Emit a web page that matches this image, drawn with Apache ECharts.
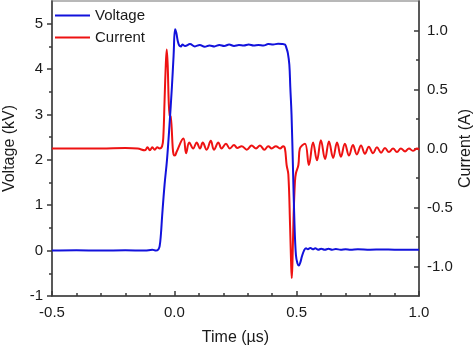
<!DOCTYPE html>
<html>
<head>
<meta charset="utf-8">
<script src="https://cdn.jsdelivr.net/npm/echarts@6/dist/echarts.min.js"></script>
<style>
  html, body { margin: 0; padding: 0; background: #fff; }
  #chart { width: 474px; height: 349px; }
</style>
</head>
<body>
<div id="chart"></div>
<script>
// tick labels
const timeTicks = [-0.5, 0.0, 0.5, 1.0];
const voltTicks = [-1, 0, 1, 2, 3, 4, 5];
const currTicks = [-1.0, -0.5, 0.0, 0.5, 1.0];

// Voltage (kV) vs time (us)
const voltTime = [-0.5, -0.4, -0.3, -0.2, -0.12, -0.09, -0.075, -0.065, -0.06, -0.055, -0.05, -0.04, -0.03, -0.02, -0.01, -0.003, 0.003, 0.008, 0.014, 0.02, 0.027, 0.033,
  0.044, 0.064, 0.084, 0.104, 0.124, 0.144, 0.164, 0.184, 0.204, 0.224, 0.244, 0.264, 0.284, 0.304, 0.324, 0.344, 0.364, 0.384, 0.404, 0.424, 0.444, 0.452,
  0.459, 0.464, 0.470, 0.474, 0.479, 0.485, 0.491, 0.497, 0.503, 0.509, 0.515, 0.522, 0.530, 0.538, 0.546, 0.556, 0.566, 0.576, 0.588, 0.6, 0.615, 0.63, 0.645, 0.66, 0.68, 0.7, 0.72, 0.75, 0.8, 0.85, 0.9, 0.95, 1.0];
const voltage = [0.0, 0.01, 0.0, 0.01, 0.0, 0.02, 0.0, 0.03, 0.1, 0.35, 0.75, 1.45, 2.0, 2.75, 3.6, 4.3, 4.88, 4.8, 4.62, 4.52, 4.5, 4.54,
  4.51, 4.55, 4.50, 4.53, 4.49, 4.52, 4.50, 4.53, 4.51, 4.54, 4.51, 4.53, 4.52, 4.54, 4.52, 4.53, 4.52, 4.55, 4.54, 4.56, 4.55, 4.54,
  4.45, 4.35, 4.1, 3.6, 3.0, 1.8, 0.6, -0.1, -0.28, -0.33, -0.26, -0.12, 0.0, 0.05, 0.03, 0.06, 0.03, 0.05, 0.02, 0.04, 0.02, 0.04, 0.02, 0.035, 0.02, 0.03, 0.02, 0.03, 0.02, 0.025, 0.02, 0.02, 0.02];

// Current (A) vs time (us)
const currTime = [-0.5, -0.4, -0.3, -0.2, -0.15, -0.12, -0.11, -0.1, -0.09, -0.08, -0.07, -0.06, -0.05, -0.045, -0.04, -0.036, -0.031, -0.027, -0.023, -0.019, -0.015, -0.011, -0.007, -0.003, 0.003, 0.009,
  0.037, 0.048, 0.061, 0.077, 0.091, 0.105, 0.116, 0.132, 0.149, 0.162, 0.18, 0.193, 0.211, 0.227, 0.244, 0.257, 0.275, 0.296, 0.316, 0.334, 0.35, 0.368, 0.384, 0.398, 0.415, 0.432, 0.445, 0.452,
  0.459, 0.466, 0.473, 0.477, 0.480, 0.483, 0.487, 0.493, 0.497, 0.507, 0.513,
  0.534, 0.550, 0.567, 0.583, 0.599, 0.616, 0.632, 0.649, 0.665, 0.681, 0.697, 0.714, 0.730, 0.746, 0.763, 0.779, 0.795, 0.812, 0.828, 0.845, 0.861, 0.877, 0.894, 0.910, 0.926, 0.943, 0.959, 0.975, 0.992, 1.0];
const current = [0.0, 0.0, 0.0, 0.005, 0.0, -0.015, 0.01, -0.015, 0.01, -0.01, 0.01, 0.0, 0.02, 0.1, 0.4, 0.65, 0.84, 0.7, 0.4, 0.28, 0.27, 0.18, 0.02, -0.05, -0.06, -0.03,
  0.085, -0.04, 0.05, 0.0, 0.05, 0.0, 0.05, -0.01, 0.065, -0.01, 0.05, 0.0, 0.04, 0.0, 0.03, 0.005, 0.02, -0.01, 0.025, 0.0, 0.025, -0.01, 0.02, 0.0, 0.02, 0.0, 0.02, 0.0,
  -0.14, -0.22, -0.65, -0.95, -1.10, -0.95, -0.6, -0.28, -0.21, -0.14, 0.0,
  0.04, -0.14, 0.05, -0.10, 0.07, -0.09, 0.06, -0.08, 0.05, -0.07, 0.04, -0.06, 0.03, -0.05, 0.025, -0.045, 0.015, -0.04, 0.01, -0.035, 0.005, -0.03, 0.0, -0.03, 0.0, -0.025, 0.0, -0.02, 0.0, -0.01];

const voltData = voltTime.map((t, i) => [t, voltage[i]]);
const currData = currTime.map((t, i) => [t, current[i]]);

const font = "'Liberation Sans', Arial, sans-serif";
const axisColor = "#3a3a3a";
const textColor = "#1a1a1a";

function minorBetween(ticks, step) {
  let out = [];
  for (let i = 0; i < ticks.length - 1; i++) {
    let a = ticks[i], b = ticks[i + 1];
    for (let v = a + step; v < b - step / 2; v += step) out.push(+v.toFixed(4));
  }
  return out;
}

const chart = echarts.init(document.getElementById("chart"));
chart.setOption({
  animation: false,
  textStyle: { fontFamily: font },
  grid: {
    left: 52, right: 55, top: 1, bottom: 53,
    outerBoundsMode: "none", containLabel: false,
    show: true, borderColor: "#b8b8b8", borderWidth: 2
  },
  legend: {
    left: 50, top: 3, orient: "vertical",
    icon: "rect", itemWidth: 35, itemHeight: 2, itemGap: 7,
    textStyle: { fontFamily: font, fontSize: 15, color: textColor },
    data: ["Voltage", "Current"]
  },
  xAxis: [
    {
      type: "value", min: -0.5, max: 1.0,
      name: "Time (\u00b5s)", nameLocation: "middle", nameGap: 34, nameMoveOverlap: false,
      nameTextStyle: { fontFamily: font, fontSize: 16, color: textColor },
      axisLine: { onZero: false, lineStyle: { color: axisColor, width: 1.5 } },
      axisTick: { customValues: timeTicks, length: 5, inside: true, lineStyle: { color: axisColor, width: 1.5 } },
      axisLabel: { customValues: timeTicks, fontSize: 15, color: textColor, margin: 9, formatter: v => v.toFixed(1) },
      splitLine: { show: false }
    },
    {
      type: "value", min: -0.5, max: 1.0, position: "bottom",
      axisLine: { show: false, onZero: false },
      axisTick: { customValues: minorBetween(timeTicks, 0.1), length: 3, inside: true, lineStyle: { color: axisColor, width: 1.5 } },
      axisLabel: { show: false },
      splitLine: { show: false }
    }
  ],
  yAxis: [
    {
      type: "value", min: -1, max: 5.5, position: "left",
      name: "Voltage (kV)", nameLocation: "middle", nameGap: 34, nameMoveOverlap: false,
      nameTextStyle: { fontFamily: font, fontSize: 16, color: textColor },
      axisLine: { show: true, onZero: false, lineStyle: { color: axisColor, width: 1.5 } },
      axisTick: { show: true, customValues: voltTicks, length: 5, lineStyle: { color: axisColor, width: 1.5 } },
      axisLabel: { customValues: voltTicks, fontSize: 15, color: textColor, margin: 9 },
      splitLine: { show: false }
    },
    {
      type: "value", min: -1.25, max: 1.25, position: "right",
      name: "Current (A)", nameLocation: "middle", nameGap: 39, nameMoveOverlap: false,
      nameTextStyle: { fontFamily: font, fontSize: 16, color: textColor },
      axisLine: { show: true, onZero: false, lineStyle: { color: axisColor, width: 1.5 } },
      axisTick: { show: true, customValues: currTicks, length: 5, inside: true, lineStyle: { color: axisColor, width: 1.5 } },
      axisLabel: { customValues: currTicks, fontSize: 15, color: textColor, margin: 8, formatter: v => v.toFixed(1) },
      splitLine: { show: false }
    },
    {
      type: "value", min: -1, max: 5.5, position: "left",
      axisLine: { show: false, onZero: false },
      axisTick: { show: true, customValues: minorBetween(voltTicks, 0.5), length: 3, lineStyle: { color: axisColor, width: 1.5 } },
      axisLabel: { show: false },
      splitLine: { show: false }
    },
    {
      type: "value", min: -1.25, max: 1.25, position: "right",
      axisLine: { show: false, onZero: false },
      axisTick: { show: true, customValues: minorBetween(currTicks, 0.25), length: 3, inside: true, lineStyle: { color: axisColor, width: 1.5 } },
      axisLabel: { show: false },
      splitLine: { show: false }
    }
  ],
  series: [
    {
      name: "Voltage", type: "line", xAxisIndex: 0, yAxisIndex: 0,
      data: voltData, symbol: "none", smooth: 0.4,
      lineStyle: { color: "#1212dc", width: 2 }, itemStyle: { color: "#1212dc" }, z: 3
    },
    {
      name: "Current", type: "line", xAxisIndex: 0, yAxisIndex: 1,
      data: currData, symbol: "none", smooth: 0.4,
      lineStyle: { color: "#ee1212", width: 2 }, itemStyle: { color: "#ee1212" }, z: 2
    }
  ]
});
</script>
</body>
</html>
